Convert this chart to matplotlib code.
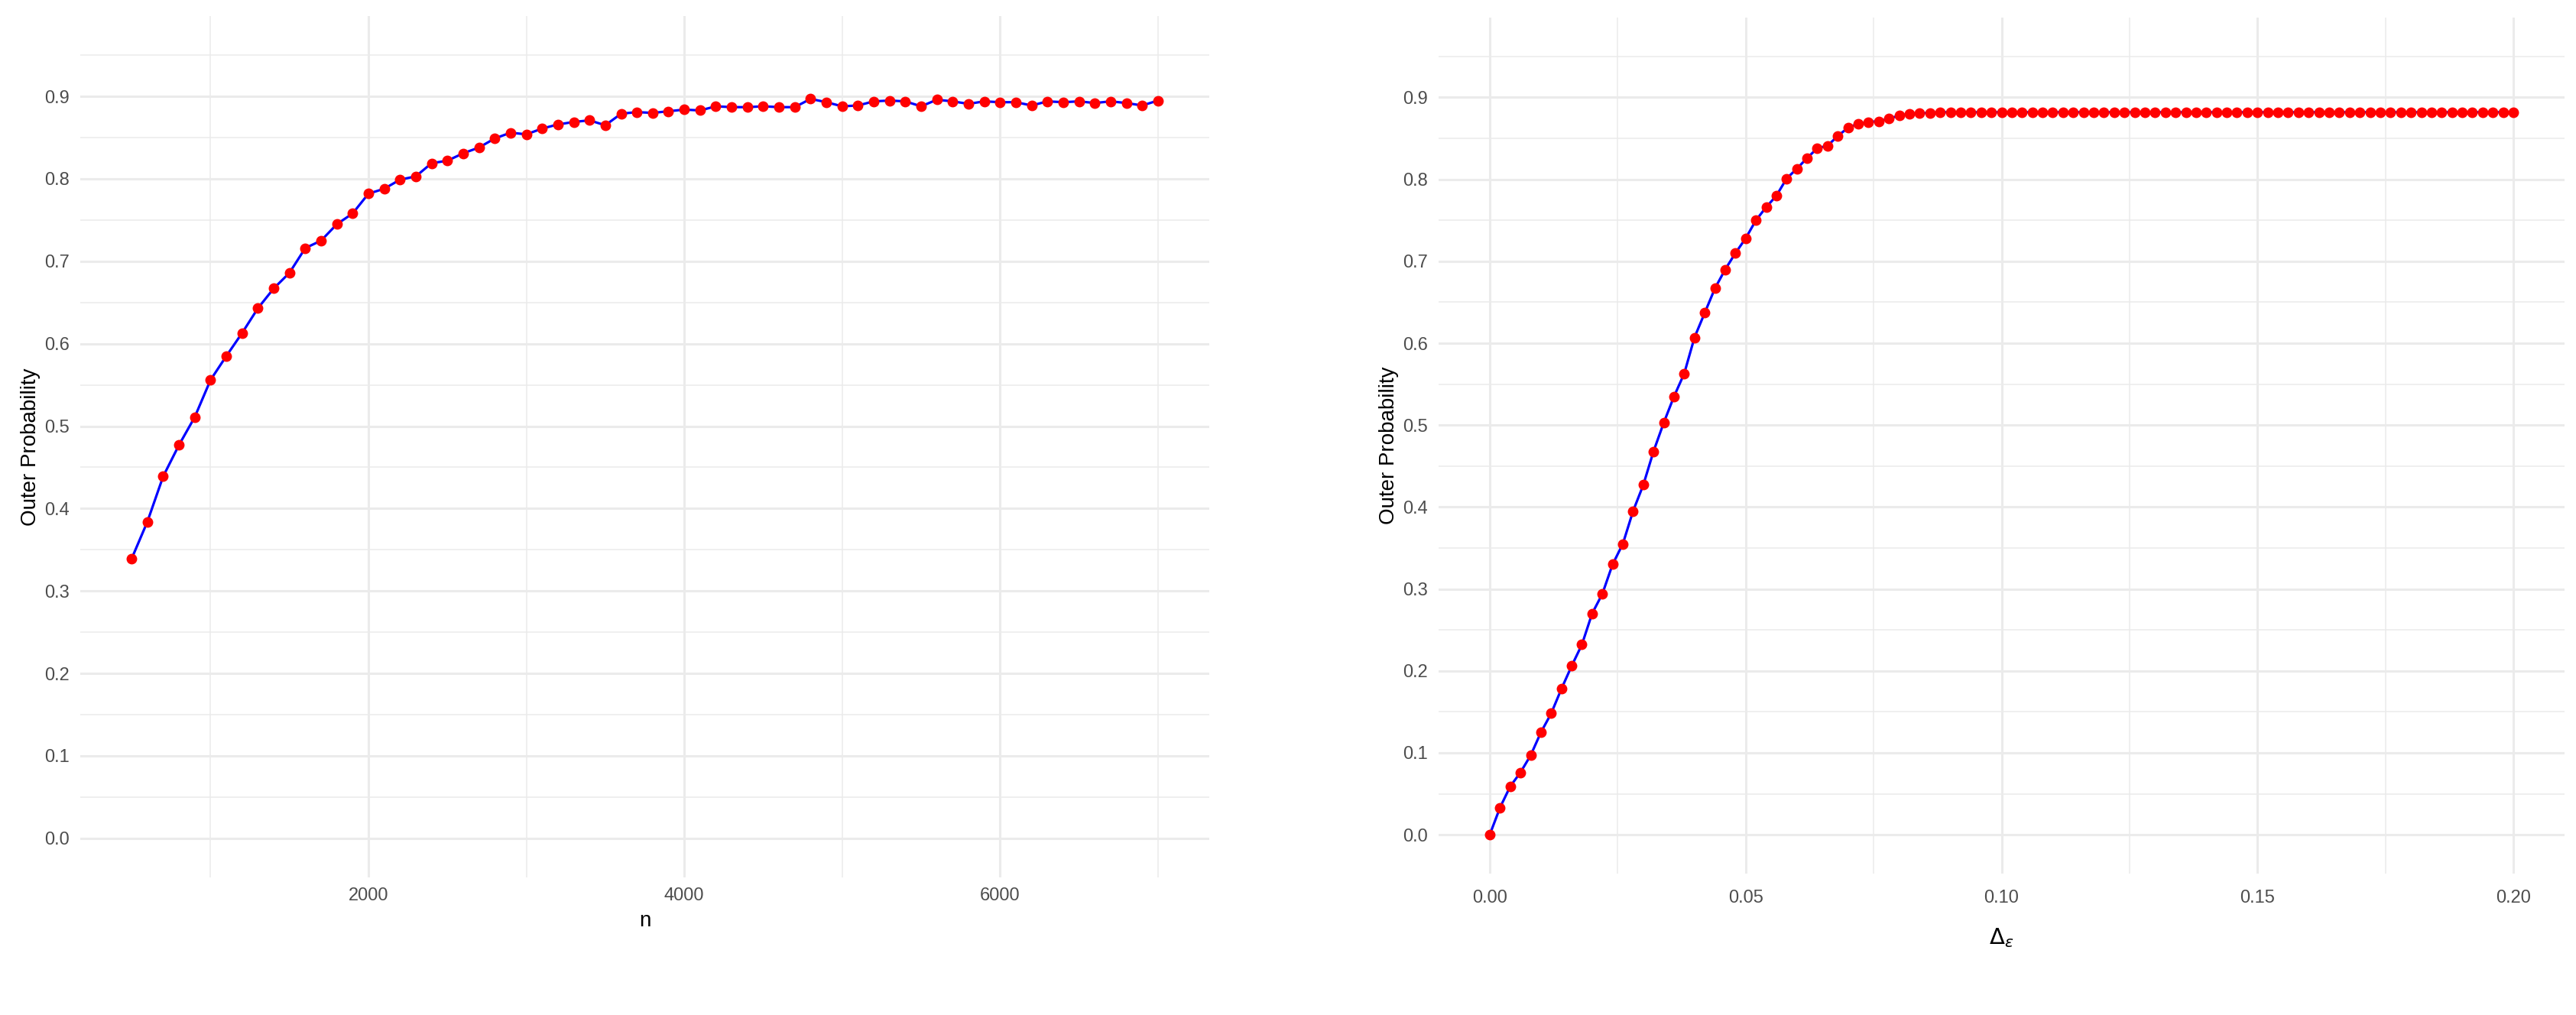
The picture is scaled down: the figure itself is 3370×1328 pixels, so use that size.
import matplotlib
matplotlib.use("Agg")
import matplotlib.pyplot as plt

plt.rcParams['font.family'] = ['Liberation Sans', 'DejaVu Sans']
plt.rcParams['mathtext.fontset'] = 'dejavusans'

# ---- Left panel data: outer probability vs n ----
n_values = [500, 600, 700, 800, 900, 1000, 1100, 1200, 1300, 1400,
            1500, 1600, 1700, 1800, 1900, 2000, 2100, 2200, 2300, 2400,
            2500, 2600, 2700, 2800, 2900, 3000, 3100, 3200, 3300, 3400,
            3500, 3600, 3700, 3800, 3900, 4000, 4100, 4200, 4300, 4400,
            4500, 4600, 4700, 4800, 4900, 5000, 5100, 5200, 5300, 5400,
            5500, 5600, 5700, 5800, 5900, 6000, 6100, 6200, 6300, 6400,
            6500, 6600, 6700, 6800, 6900, 7000]
prob_n = [0.339, 0.384, 0.439, 0.477, 0.511, 0.556, 0.585, 0.613, 0.643, 0.667,
          0.686, 0.716, 0.725, 0.745, 0.758, 0.782, 0.788, 0.799, 0.803, 0.819,
          0.822, 0.831, 0.838, 0.849, 0.856, 0.854, 0.861, 0.866, 0.869, 0.871,
          0.865, 0.879, 0.881, 0.880, 0.882, 0.884, 0.883, 0.888, 0.887, 0.887,
          0.888, 0.887, 0.887, 0.897, 0.893, 0.888, 0.889, 0.894, 0.895, 0.894,
          0.888, 0.896, 0.894, 0.891, 0.894, 0.893, 0.893, 0.889, 0.894, 0.893,
          0.894, 0.892, 0.894, 0.892, 0.889, 0.895]

# ---- Right panel data: outer probability vs Delta_epsilon ----
delta_values = [0.000, 0.002, 0.004, 0.006, 0.008, 0.010, 0.012, 0.014, 0.016, 0.018,
                0.020, 0.022, 0.024, 0.026, 0.028, 0.030, 0.032, 0.034, 0.036, 0.038,
                0.040, 0.042, 0.044, 0.046, 0.048, 0.050, 0.052, 0.054, 0.056, 0.058,
                0.060, 0.062, 0.064, 0.066, 0.068, 0.070, 0.072, 0.074, 0.076, 0.078,
                0.080, 0.082, 0.084, 0.086, 0.088, 0.090, 0.092, 0.094, 0.096, 0.098,
                0.100, 0.102, 0.104, 0.106, 0.108, 0.110, 0.112, 0.114, 0.116, 0.118,
                0.120, 0.122, 0.124, 0.126, 0.128, 0.130, 0.132, 0.134, 0.136, 0.138,
                0.140, 0.142, 0.144, 0.146, 0.148, 0.150, 0.152, 0.154, 0.156, 0.158,
                0.160, 0.162, 0.164, 0.166, 0.168, 0.170, 0.172, 0.174, 0.176, 0.178,
                0.180, 0.182, 0.184, 0.186, 0.188, 0.190, 0.192, 0.194, 0.196, 0.198,
                0.200]
prob_delta = [0.000, 0.033, 0.059, 0.076, 0.097, 0.125, 0.148, 0.178, 0.206, 0.232,
              0.270, 0.294, 0.330, 0.355, 0.395, 0.427, 0.468, 0.503, 0.535, 0.563,
              0.607, 0.637, 0.667, 0.690, 0.710, 0.728, 0.750, 0.766, 0.780, 0.801,
              0.813, 0.826, 0.838, 0.841, 0.853, 0.863, 0.868, 0.870, 0.871, 0.874,
              0.878, 0.880, 0.881, 0.881, 0.882, 0.882, 0.882, 0.882, 0.882, 0.882,
              0.882, 0.882, 0.882, 0.882, 0.882, 0.882, 0.882, 0.882, 0.882, 0.882,
              0.882, 0.882, 0.882, 0.882, 0.882, 0.882, 0.882, 0.882, 0.882, 0.882,
              0.882, 0.882, 0.882, 0.882, 0.882, 0.882, 0.882, 0.882, 0.882, 0.882,
              0.882, 0.882, 0.882, 0.882, 0.882, 0.882, 0.882, 0.882, 0.882, 0.882,
              0.882, 0.882, 0.882, 0.882, 0.882, 0.882, 0.882, 0.882, 0.882, 0.882,
              0.882]

y_major = [0.0, 0.1, 0.2, 0.3, 0.4, 0.5, 0.6, 0.7, 0.8, 0.9]
y_minor = [0.05, 0.15, 0.25, 0.35, 0.45, 0.55, 0.65, 0.75, 0.85, 0.95]
y_labels = ["0.0", "0.1", "0.2", "0.3", "0.4", "0.5", "0.6", "0.7", "0.8", "0.9"]

n_major = [2000, 4000, 6000]
n_minor = [1000, 3000, 5000, 7000]
n_labels = ["2000", "4000", "6000"]

d_major = [0.00, 0.05, 0.10, 0.15, 0.20]
d_minor = [0.025, 0.075, 0.125, 0.175]
d_labels = ["0.00", "0.05", "0.10", "0.15", "0.20"]

W, H = 3370, 1328
fig = plt.figure(figsize=(W / 100, H / 100), dpi=100)
fig.patch.set_facecolor('white')

ax1 = fig.add_axes([105 / W, 1 - 1148 / H, (1582 - 105) / W, (1148 - 21) / H])
ax2 = fig.add_axes([1882 / W, 1 - 1143 / H, (3355 - 1882) / W, (1143 - 23) / H])

GRID = '#EBEBEB'
TICK_COL = '#4D4D4D'


def style(ax, xmaj, xmin, xlab, xlim, xpad):
    ax.set_facecolor('white')
    for s in ax.spines.values():
        s.set_visible(False)
    ax.set_xticks(xmaj)
    ax.set_xticklabels(xlab)
    ax.set_xticks(xmin, minor=True)
    ax.set_yticks(y_major)
    ax.set_yticklabels(y_labels)
    ax.set_yticks(y_minor, minor=True)
    ax.grid(which='major', color=GRID, linewidth=2.2)
    ax.grid(which='minor', color=GRID, linewidth=1.1)
    ax.set_axisbelow(True)
    ax.tick_params(which='both', length=0)
    ax.tick_params(axis='x', which='major', pad=xpad, labelsize=17, labelcolor=TICK_COL)
    ax.tick_params(axis='y', which='major', pad=10, labelsize=17, labelcolor=TICK_COL)
    ax.set_xlim(*xlim)
    ax.set_ylim(-0.0475, 0.9975)
    ax.set_ylabel("Outer Probability", fontsize=20, color='black', labelpad=4)


style(ax1, n_major, n_minor, n_labels, (175, 7325), 9)
style(ax2, d_major, d_minor, d_labels, (-0.01, 0.21), 15)

ax1.plot(n_values, prob_n, color='#0000FF', linewidth=2.3, zorder=2)
ax1.plot(n_values, prob_n, linestyle='none', marker='o', markersize=9,
         markerfacecolor='#FF0000', markeredgecolor='#FF0000', zorder=3)
ax1.set_xlabel("n", fontsize=20, color='black', labelpad=7)

ax2.plot(delta_values, prob_delta, color='#0000FF', linewidth=2.3, zorder=2)
ax2.plot(delta_values, prob_delta, linestyle='none', marker='o', markersize=9,
         markerfacecolor='#FF0000', markeredgecolor='#FF0000', zorder=3)
ax2.set_xlabel(r'$\Delta_{\varepsilon}$', fontsize=21, color='black', labelpad=19)

fig.savefig("out.png", dpi=100, facecolor='white')
